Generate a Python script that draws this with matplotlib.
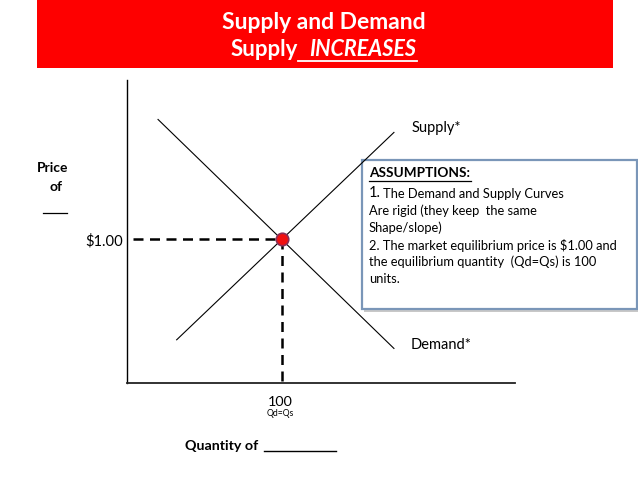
import matplotlib
matplotlib.use("Agg")
import matplotlib.pyplot as plt
from matplotlib.patches import Rectangle

plt.rcParams['font.family'] = ['Lato', 'DejaVu Sans']

# ---- data ----
demand_q = [20, 172]
demand_p = [1.83, 0.24]
supply_q = [32, 172]
supply_p = [0.30, 1.74]
eq_q = 100
eq_p = 1.00
q_max = 250
p_max = 2.104
price_label = "$1.00"
qty_label = "100"
qty_sub = "Qd=Qs"
title_line1 = "Supply and Demand"
title_line2a = "Supply"
title_line2b = "INCREASES"
assumptions = [
    "The Demand and Supply Curves",
    "Are rigid (they keep  the same",
    "Shape/slope)",
    "2. The market equilibrium price is $1.00 and",
    "the equilibrium quantity  (Qd=Qs) is 100",
    "units.",
]

W, H = 638, 479
fig = plt.figure(figsize=(W / 100, H / 100), dpi=100)
fig.patch.set_facecolor('white')

# overlay axes in pixel coordinates for slide decoration
ov = fig.add_axes([0, 0, 1, 1])
ov.set_xlim(0, W)
ov.set_ylim(H, 0)
ov.axis('off')

# red title band
ov.add_patch(Rectangle((37, 0), 576, 68, facecolor='#fe0000', edgecolor='none', zorder=1))
ov.text(324, 22, title_line1, color='white', fontsize=16.5, fontweight='bold',
        ha='center', va='center', zorder=2)
ov.text(298, 49, title_line2a, color='white', fontsize=16, fontweight='bold',
        ha='right', va='center', zorder=2)
ov.text(309, 49, title_line2b, color='white', fontsize=15.5, fontweight='bold',
        fontstyle='italic', ha='left', va='center', zorder=2)
ov.plot([298, 417], [61, 61], color='white', lw=1.3, zorder=2)

# chart axes: left spine at x=127px, bottom at y=383px, top at 80px, right at 515px
ax = fig.add_axes([127 / W, (H - 383) / H, (515 - 127) / W, (383 - 80) / H])
ax.set_xlim(0, q_max)
ax.set_ylim(0, p_max)
ax.patch.set_alpha(0)
for s in ['top', 'right']:
    ax.spines[s].set_visible(False)
ax.spines['left'].set_linewidth(1.0)
ax.spines['bottom'].set_linewidth(1.3)
ax.spines['bottom'].set_color('#222222')
ax.set_xticks([])
ax.set_yticks([])

ax.plot(demand_q, demand_p, color='black', lw=0.8, zorder=3)
ax.plot(supply_q, supply_p, color='black', lw=0.8, zorder=3)
ax.plot([4, eq_q], [eq_p, eq_p], color='black', lw=1.8, ls=(0, (4, 2.6)), zorder=3)
ax.plot([eq_q, eq_q], [eq_p, 0], color='black', lw=1.8, ls=(0, (4, 2.6)), zorder=3)
ax.plot([eq_q], [eq_p], marker='o', markersize=9, markerfacecolor='#f01010',
        markeredgecolor='#8a2d55', markeredgewidth=1.2, zorder=5)

# axis labels
ov.text(53, 168, "Price", fontsize=10, fontweight='bold', ha='center', va='center')
ov.text(56, 187, "of", fontsize=10, fontweight='bold', ha='center', va='center')
ov.plot([43, 67], [213, 213], color='black', lw=0.9)
ov.text(123, 241, price_label, fontsize=10.6, ha='right', va='center')
ov.text(280, 402, qty_label, fontsize=10.4, ha='center', va='center')
ov.text(280, 414, qty_sub, fontsize=6.2, ha='center', va='center')
ov.text(185, 446, "Quantity of", fontsize=10.3, fontweight='bold', ha='left', va='center')
ov.plot([264, 336], [451, 451], color='black', lw=1.0)

ov.text(412, 128, "Supply*", fontsize=10.5, ha='left', va='center')
ov.text(411, 345, "Demand*", fontsize=10.5, ha='left', va='center')

# assumptions box with shadow
ov.add_patch(Rectangle((364, 162), 276, 150, facecolor='#c8c8c8', edgecolor='none', zorder=6))
ov.add_patch(Rectangle((362, 160), 275, 149, facecolor='white', edgecolor='#7a96b8',
                       lw=1.6, zorder=7))
ov.text(369, 173, "ASSUMPTIONS:", fontsize=9.8, fontweight='bold', ha='left', va='center',
        zorder=8)
ov.plot([369, 471], [180.5, 180.5], color='black', lw=0.9, zorder=8)
ov.text(369, 193, "1.", fontsize=10.5, ha='left', va='center', zorder=8)
ov.text(383, 194, assumptions[0], fontsize=9.3, ha='left', va='center', zorder=8)
ys = [211, 228, 245, 262, 279]
for y, t in zip(ys, assumptions[1:]):
    ov.text(369, y, t, fontsize=9.3, ha='left', va='center', zorder=8)

fig.savefig("out.png", dpi=100)
